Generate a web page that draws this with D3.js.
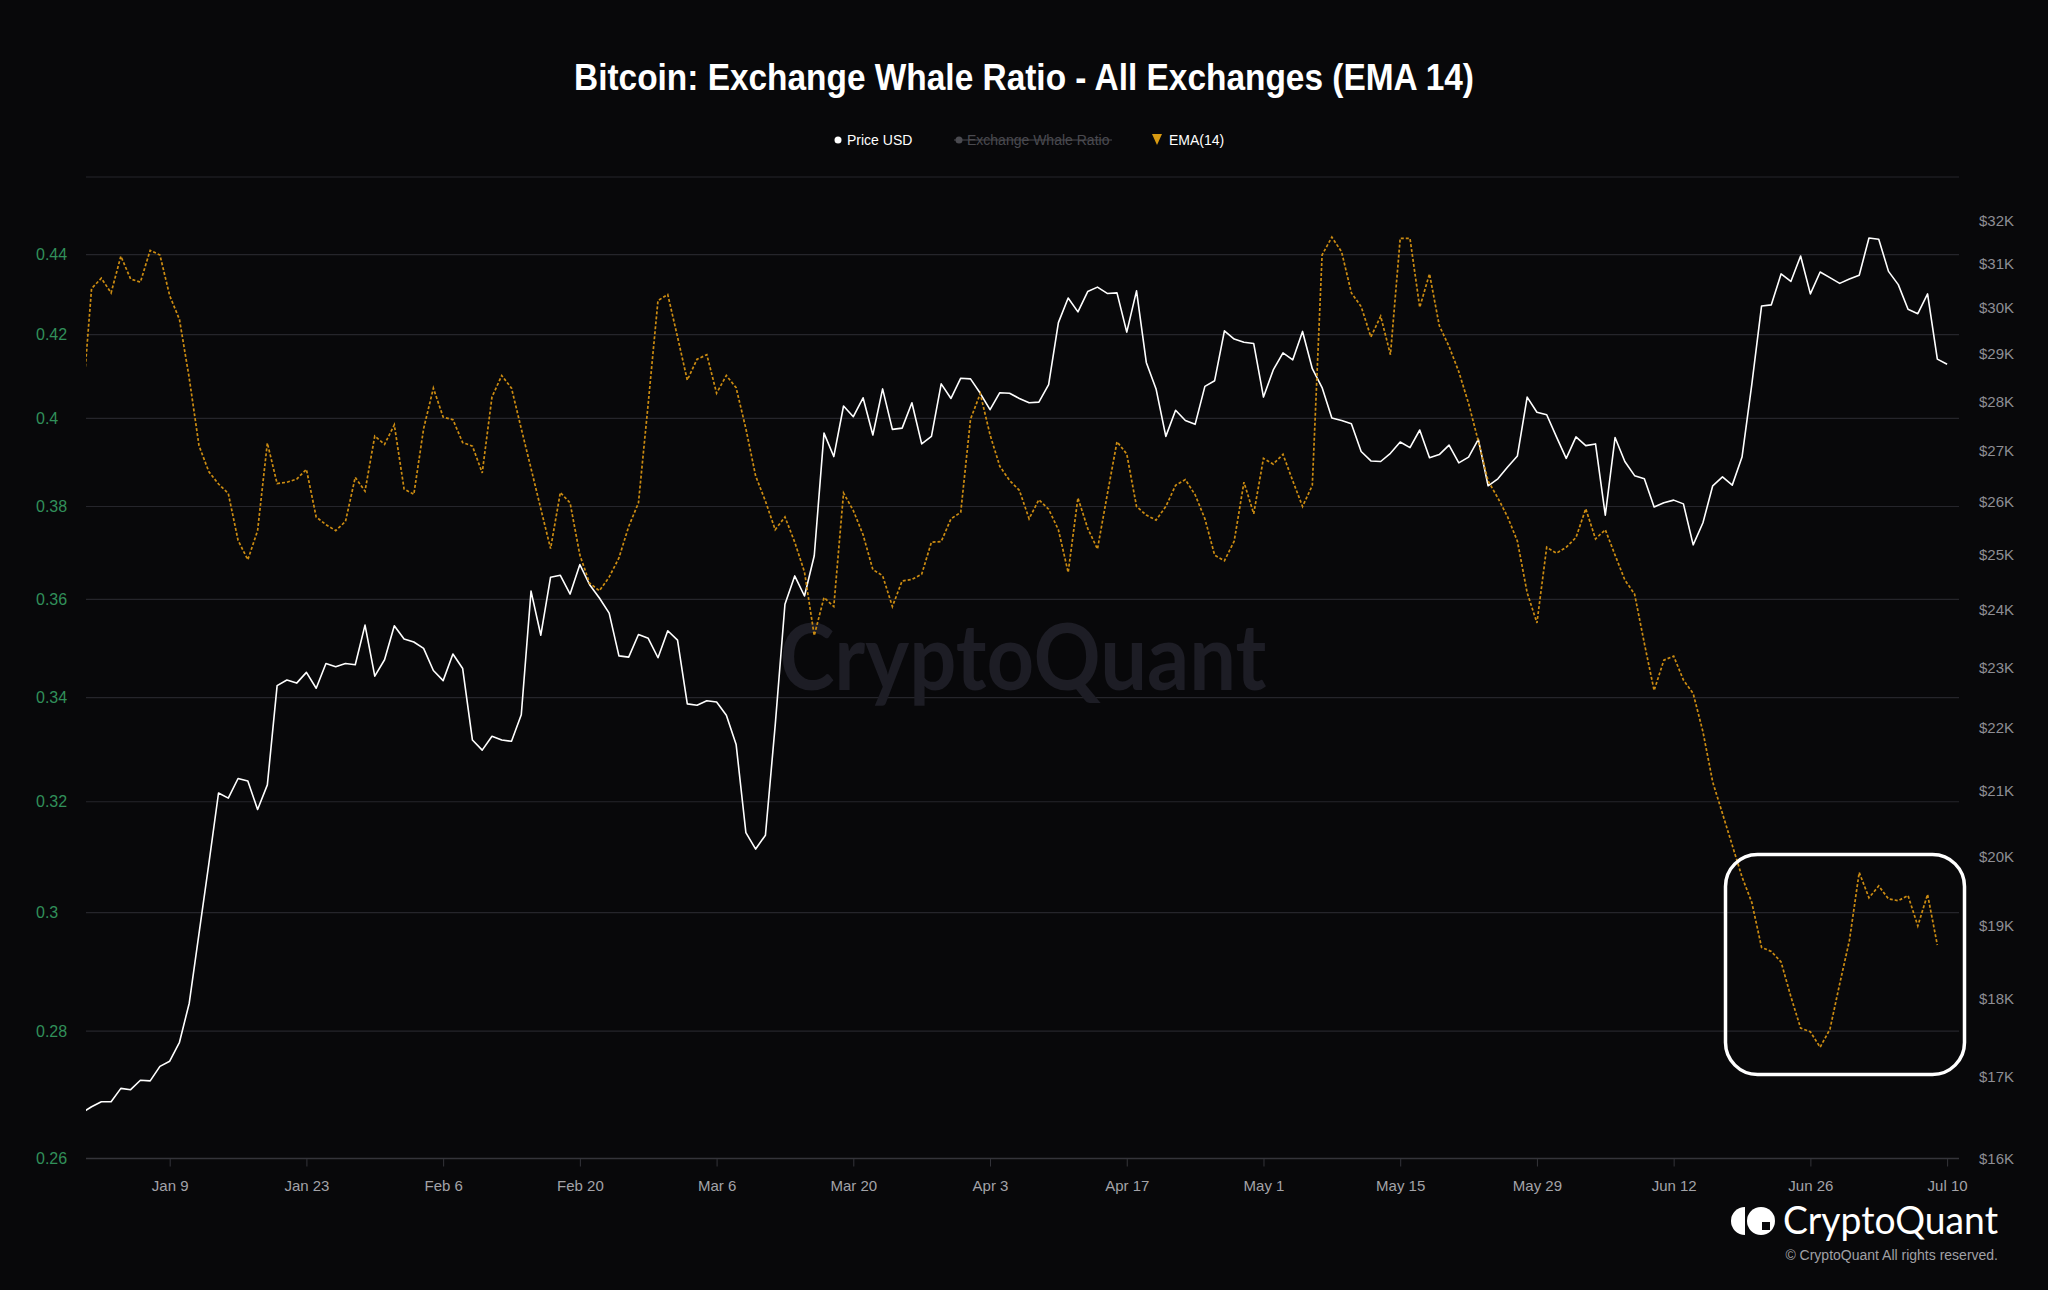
<!DOCTYPE html>
<html>
<head>
<meta charset="utf-8">
<script src="https://cdn.jsdelivr.net/npm/d3@7"></script>
<style>
    html, body { margin: 0; padding: 0; background: #08080a; }
    svg { display: block; font-family: "Liberation Sans", Arial, Helvetica, sans-serif; }
</style>
</head>
<body>
<div id="chart"></div>
<script>
// daily series, first point is 2022-12-31
const startDate = "2022-12-31";

const priceUsd = [
    16547, 16624, 16686, 16686, 16851, 16835, 16953, 16945, 17128, 17193,
    17435, 17946, 18892, 19887, 20963, 20884, 21189, 21149, 20709, 21090,
    22694, 22790, 22737, 22918, 22651, 23068, 23015, 23068, 23047, 23733,
    22854, 23133, 23722, 23492, 23438, 23329, 22950, 22779, 23231, 22983,
    21800, 21638, 21862, 21800, 21780, 22212, 24338, 23556, 24589, 24623,
    24283, 24819, 24452, 24214, 23945, 23199, 23178, 23568, 23502, 23167,
    23634, 23470, 22390, 22369, 22442, 22422, 22202, 21730, 20357, 20112,
    20319, 22037, 24101, 24612, 24249, 24982, 27351, 26882, 27906, 27686,
    28076, 27313, 28260, 27428, 27453, 27973, 27134, 27286, 28366, 28062,
    28485, 28471, 28169, 27829, 28181, 28169, 28062, 27973, 27986, 28352,
    29680, 30225, 29917, 30369, 30469, 30327, 30340, 29473, 30384, 28819,
    28260, 27286, 27817, 27608, 27530, 28313, 28432, 29500, 29320, 29253,
    29224, 28090, 28659, 29023, 28875, 29487, 28685, 28288, 27661, 27608,
    27544, 26983, 26795, 26784, 26946, 27173, 27059, 27415, 26859, 26921,
    27110, 26757, 26871, 27225, 26307, 26444, 26677, 26894, 28090, 27778,
    27725, 27276, 26846, 27276, 27100, 27134, 25741, 27262, 26784, 26505,
    26444, 25898, 25981, 26030, 25958, 25184, 25598, 26307, 26481, 26320,
    26871, 28352, 30045, 30072, 30768, 30596, 31176, 30316, 30811, 30682,
    30553, 30652, 30738, 31595, 31567, 30825, 30525, 29976, 29877, 30316,
    28889, 28779
];

const ema14 = [
    0.4016, 0.4314, 0.4340, 0.4303, 0.4396, 0.4338, 0.4330, 0.4411, 0.4399, 0.4296,
    0.4237, 0.4095, 0.3937, 0.3878, 0.3850, 0.3829, 0.3726, 0.3684, 0.3747, 0.3943,
    0.3851, 0.3854, 0.3861, 0.3883, 0.3777, 0.3760, 0.3747, 0.3767, 0.3865, 0.3834,
    0.3959, 0.3940, 0.3985, 0.3839, 0.3827, 0.3976, 0.4071, 0.4003, 0.3997, 0.3944,
    0.3936, 0.3875, 0.4050, 0.4101, 0.4071, 0.3976, 0.3885, 0.3795, 0.3708, 0.3831,
    0.3808, 0.3694, 0.3634, 0.3618, 0.3647, 0.3688, 0.3756, 0.3808, 0.4035, 0.4284,
    0.4299, 0.4194, 0.4090, 0.4140, 0.4151, 0.4059, 0.4101, 0.4072, 0.3976, 0.3868,
    0.3812, 0.3749, 0.3777, 0.3722, 0.3658, 0.3525, 0.3604, 0.3585, 0.3830, 0.3791,
    0.3738, 0.3663, 0.3650, 0.3585, 0.3639, 0.3642, 0.3653, 0.3722, 0.3723, 0.3773,
    0.3787, 0.3998, 0.4058, 0.3962, 0.3890, 0.3858, 0.3836, 0.3773, 0.3815, 0.3794,
    0.3749, 0.3657, 0.3819, 0.3752, 0.3707, 0.3826, 0.3946, 0.3918, 0.3800, 0.3781,
    0.3770, 0.3800, 0.3847, 0.3860, 0.3826, 0.3773, 0.3694, 0.3682, 0.3724, 0.3854,
    0.3784, 0.3908, 0.3895, 0.3917, 0.3857, 0.3800, 0.3847, 0.4399, 0.4445, 0.4407,
    0.4303, 0.4269, 0.4194, 0.4245, 0.4151, 0.4442, 0.4442, 0.4267, 0.4351, 0.4222,
    0.4171, 0.4110, 0.4035, 0.3947, 0.3857, 0.3819, 0.3777, 0.3724, 0.3614, 0.3551,
    0.3711, 0.3698, 0.3711, 0.3732, 0.3795, 0.3729, 0.3749, 0.3694, 0.3641, 0.3611,
    0.3509, 0.3414, 0.3475, 0.3483, 0.3435, 0.3408, 0.3333, 0.3237, 0.3178, 0.3120,
    0.3063, 0.3018, 0.2940, 0.2933, 0.2915, 0.2857, 0.2805, 0.2799, 0.2774, 0.2803,
    0.2878, 0.2952, 0.3071, 0.3026, 0.3047, 0.3024, 0.3021, 0.3030, 0.2977, 0.3032,
    0.2944
];

const ratioTicks = [0.26, 0.28, 0.3, 0.32, 0.34, 0.36, 0.38, 0.4, 0.42, 0.44];
const priceTicks = [16000, 17000, 18000, 19000, 20000, 21000, 22000, 23000, 24000,
    25000, 26000, 27000, 28000, 29000, 30000, 31000, 32000];
const dateTicks = ["2023-01-09", "2023-01-23", "2023-02-06", "2023-02-20", "2023-03-06",
    "2023-03-20", "2023-04-03", "2023-04-17", "2023-05-01", "2023-05-15", "2023-05-29",
    "2023-06-12", "2023-06-26", "2023-07-10"];

const W = 2048, H = 1290;
const plot = { left: 86, right: 1959, top: 176, bottom: 1158.5 };
const BG = "#08080a";
const ORANGE = "#cc8c12";
const GEO_FONT = "Lato, 'Open Sans', Roboto, sans-serif";

function main() {
    const parse = d3.utcParse("%Y-%m-%d");
    const t0 = parse(startDate);
    const day = i => d3.utcDay.offset(t0, i);

    const svg = d3.select("#chart")
        .append("svg")
            .attr("width", W)
            .attr("height", H);

    svg.append("rect")
        .attr("width", W)
        .attr("height", H)
        .attr("fill", BG);

    // scales, both y axes are logarithmic
    const x = d3.scaleTime()
        .domain([day(0), day(191)])
        .range([81.8, 1947.1]);

    const yRatio = d3.scaleLog()
        .domain([0.26, 0.4606])
        .range([plot.bottom, plot.top]);

    const yPrice = d3.scaleLog()
        .domain([16000, 33077])
        .range([plot.bottom, plot.top]);

    // title
    svg.append("text")
        .attr("x", 1024)
        .attr("y", 90)
        .attr("text-anchor", "middle")
        .attr("font-size", 37)
        .attr("font-weight", "bold")
        .attr("fill", "#ffffff")
        .attr("textLength", 900)
        .attr("lengthAdjust", "spacingAndGlyphs")
        .text("Bitcoin: Exchange Whale Ratio - All Exchanges (EMA 14)");

    // legend
    const legend = svg.append("g").attr("font-size", 14);
    legend.append("circle").attr("cx", 838).attr("cy", 140).attr("r", 3.5).attr("fill", "#fff");
    legend.append("text").attr("x", 847).attr("y", 145).attr("fill", "#fff").text("Price USD");
    legend.append("circle").attr("cx", 959).attr("cy", 140).attr("r", 3.5).attr("fill", "#4a4a50");
    legend.append("text").attr("x", 967).attr("y", 145).attr("fill", "#4a4a50").text("Exchange Whale Ratio");
    legend.append("line")
        .attr("x1", 954).attr("x2", 1112)
        .attr("y1", 140).attr("y2", 140)
        .attr("stroke", "#4a4a50").attr("stroke-width", 1.2);
    legend.append("path")
        .attr("d", "M1152,134 L1162,134 L1157,145 Z")
        .attr("fill", "#d89a12");
    legend.append("text").attr("x", 1169).attr("y", 145).attr("fill", "#fff").text("EMA(14)");

    // gridlines
    const grid = svg.append("g");
    grid.selectAll("line.grid")
        .data(ratioTicks.slice(1))
        .enter()
        .append("line")
            .attr("x1", plot.left).attr("x2", plot.right)
            .attr("y1", d => yRatio(d)).attr("y2", d => yRatio(d))
            .attr("stroke", "#25252b")
            .attr("stroke-width", 1.2);
    grid.append("line")
        .attr("x1", plot.left).attr("x2", plot.right)
        .attr("y1", plot.top + 1).attr("y2", plot.top + 1)
        .attr("stroke", "#25252b").attr("stroke-width", 1.2);

    // watermark
    svg.append("text")
        .attr("x", 1023)
        .attr("y", 690)
        .attr("text-anchor", "middle")
        .style("font-family", GEO_FONT)
        .attr("font-weight", 700)
        .attr("font-size", 92)
        .attr("fill", "#1d1d25")
        .attr("textLength", 487)
        .attr("lengthAdjust", "spacingAndGlyphs")
        .text("CryptoQuant");

    // bottom axis
    const xAxis = svg.append("g")
        .attr("transform", `translate(0, ${plot.bottom})`)
        .call(d3.axisBottom(x)
            .tickValues(dateTicks.map(parse))
            .tickFormat(d3.utcFormat("%b %-d"))
            .tickSize(8)
            .tickPadding(14));
    xAxis.select(".domain").remove();
    xAxis.selectAll(".tick line").attr("stroke", "#34343a");
    xAxis.selectAll(".tick text")
        .attr("fill", "#a3a3a8")
        .attr("font-size", 15)
        .attr("font-family", null);
    xAxis.attr("font-family", null);
    svg.append("line")
        .attr("x1", plot.left).attr("x2", plot.right)
        .attr("y1", plot.bottom).attr("y2", plot.bottom)
        .attr("stroke", "#34343a").attr("stroke-width", 1.5);

    // left axis labels (ratio)
    svg.append("g")
        .selectAll("text")
        .data(ratioTicks)
        .enter()
        .append("text")
            .attr("x", 36)
            .attr("y", d => yRatio(d))
            .attr("dy", "0.35em")
            .attr("font-size", 16)
            .attr("fill", "#31905a")
            .text(d => d3.format("~g")(d));

    // right axis labels (price)
    svg.append("g")
        .selectAll("text")
        .data(priceTicks)
        .enter()
        .append("text")
            .attr("x", 1979)
            .attr("y", d => yPrice(d))
            .attr("dy", "0.35em")
            .attr("font-size", 15)
            .attr("fill", "#8e8e94")
            .text(d => `$${d / 1000}K`);

    // lines
    svg.append("clipPath")
        .attr("id", "plot-clip")
        .append("rect")
            .attr("x", plot.left)
            .attr("y", plot.top)
            .attr("width", plot.right - plot.left)
            .attr("height", plot.bottom - plot.top);

    const lines = svg.append("g").attr("clip-path", "url(#plot-clip)");

    lines.append("path")
        .datum(priceUsd)
        .attr("fill", "none")
        .attr("stroke", "#ffffff")
        .attr("stroke-width", 1.6)
        .attr("stroke-linejoin", "round")
        .attr("d", d3.line()
            .x((d, i) => x(day(i)))
            .y(d => yPrice(d)));

    lines.append("path")
        .datum(ema14)
        .attr("fill", "none")
        .attr("stroke", ORANGE)
        .attr("stroke-width", 1.7)
        .attr("stroke-dasharray", "3,2")
        .attr("d", d3.line()
            .x((d, i) => x(day(i)))
            .y(d => yRatio(d)));

    // highlight box around the recent EMA low
    svg.append("rect")
        .attr("x", 1725.5)
        .attr("y", 854.5)
        .attr("width", 239)
        .attr("height", 220)
        .attr("rx", 32)
        .attr("fill", "none")
        .attr("stroke", "#ffffff")
        .attr("stroke-width", 3.5);

    // logo + copyright
    const logo = svg.append("g");
    logo.append("path")
        .attr("d", "M1745,1207 A14,14 0 0 0 1745,1235 Z")
        .attr("fill", "#fff");
    logo.append("circle")
        .attr("cx", 1761).attr("cy", 1221).attr("r", 14)
        .attr("fill", "#fff");
    logo.append("rect")
        .attr("x", 1762).attr("y", 1222).attr("width", 8).attr("height", 8)
        .attr("fill", BG);
    logo.append("text")
        .attr("x", 1783)
        .attr("y", 1234)
        .style("font-family", GEO_FONT)
        .attr("font-size", 38)
        .attr("fill", "#fff")
        .attr("textLength", 215)
        .attr("lengthAdjust", "spacingAndGlyphs")
        .text("CryptoQuant");
    svg.append("text")
        .attr("x", 1998)
        .attr("y", 1260)
        .attr("text-anchor", "end")
        .attr("font-size", 14)
        .attr("fill", "#a0a0a5")
        .text("© CryptoQuant All rights reserved.");
}

main();
</script>
</body>
</html>
